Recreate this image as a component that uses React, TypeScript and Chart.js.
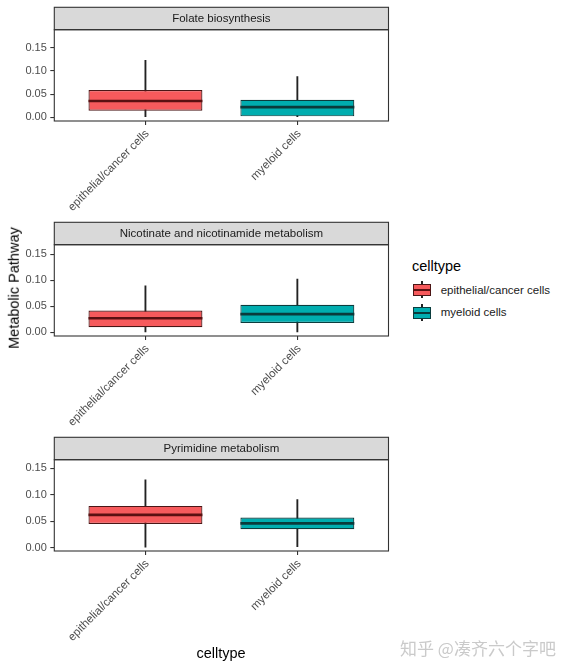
import React, { useEffect, useRef } from "react";
import { Chart, registerables } from "chart.js";

Chart.register(...registerables);

const categories = ["epithelial/cancer cells", "myeloid cells"];
const pathways = [
  "Folate biosynthesis",
  "Nicotinate and nicotinamide metabolism",
  "Pyrimidine metabolism",
];
const yTickValues = [0, 0.05, 0.1, 0.15];
// per pathway: [epithelial/cancer cells, myeloid cells]
const whiskerLow = [[0.0, 0.0], [0.0, 0.0], [0.001, 0.002]];
const lowerQuartile = [[0.014, 0.002], [0.010, 0.018], [0.045, 0.035]];
const medianValue = [[0.035, 0.022], [0.027, 0.035], [0.062, 0.046]];
const upperQuartile = [[0.059, 0.038], [0.042, 0.053], [0.079, 0.057]];
const whiskerHigh = [[0.123, 0.088], [0.089, 0.102], [0.128, 0.091]];
const yAxisMin = [-0.008, -0.007, -0.006];
const yAxisMax = [0.189, 0.168, 0.166];

const fillColors = ["#F65A5C", "#00ADAF"];
const borderColors = ["#4a1616", "#0b3d3e"];
const medianColors = ["#5a1011", "#0a3a3b"];

const FONT = "'Liberation Sans', Arial, Helvetica, sans-serif";

const facetPlugin = {
  id: "facetStrip",
  afterDatasetsDraw(chart: any, _args: any, opts: any) {
    const { ctx } = chart;
    const meta = chart.getDatasetMeta(0);
    const yScale = chart.scales.y;
    ctx.save();
    meta.data.forEach((el: any, j: number) => {
      const y = yScale.getPixelForValue(opts.medians[j]);
      const half = el.width / 2;
      ctx.beginPath();
      ctx.strokeStyle = medianColors[j];
      ctx.lineWidth = 2.6;
      ctx.moveTo(el.x - half, y);
      ctx.lineTo(el.x + half, y);
      ctx.stroke();
    });
    ctx.restore();
  },
  afterDraw(chart: any, _args: any, opts: any) {
    const { ctx, chartArea } = chart;
    const { left, right, top, bottom } = chartArea;
    const stripH = 22.4;
    ctx.save();
    ctx.fillStyle = "#D9D9D9";
    ctx.fillRect(left, top - stripH, right - left, stripH);
    ctx.strokeStyle = "#333333";
    ctx.lineWidth = 1.1;
    ctx.strokeRect(left, top - stripH, right - left, stripH);
    ctx.strokeRect(left, top, right - left, bottom - top);
    ctx.fillStyle = "#1A1A1A";
    ctx.font = `11.5px ${FONT}`;
    ctx.textAlign = "center";
    ctx.textBaseline = "middle";
    ctx.fillText(opts.text, (left + right) / 2, top - stripH / 2 + 0.5);
    ctx.restore();
  },
};

function Panel({ index }: { index: number }) {
  const ref = useRef<HTMLCanvasElement | null>(null);
  useEffect(() => {
    if (!ref.current) return;
    const tickFont = { family: FONT, size: 11 };
    const chart = new Chart(ref.current, {
      type: "bar",
      data: {
        datasets: [
          {
            label: "box",
            data: categories.map((_, j) => ({
              x: j,
              y: [lowerQuartile[index][j], upperQuartile[index][j]],
            })) as any,
            backgroundColor: fillColors,
            borderColor: borderColors,
            borderWidth: 1.2,
            borderSkipped: false,
            barPercentage: 0.75,
            categoryPercentage: 1,
            grouped: false,
            order: 0,
          } as any,
          {
            label: "whisker",
            data: categories.map((_, j) => ({
              x: j,
              y: [whiskerLow[index][j], whiskerHigh[index][j]],
            })) as any,
            backgroundColor: "#222222",
            barThickness: 1.2,
            grouped: false,
            order: 1,
          } as any,
        ],
      },
      options: {
        animation: false,
        responsive: false,
        maintainAspectRatio: false,
        layout: { padding: { top: 29.7, right: 6.5, left: 0, bottom: 0 } },
        plugins: {
          legend: { display: false },
          tooltip: { enabled: false },
          facetStrip: { text: pathways[index], medians: medianValue[index] },
        } as any,
        scales: {
          x: {
            type: "linear",
            offset: false,
            min: -0.6,
            max: 1.6,
            afterBuildTicks: (s: any) => {
              s.ticks = categories.map((_, j) => ({ value: j }));
            },
            afterFit: (s: any) => {
              s.height = 94;
            },
            ticks: {
              callback: (v: any) => categories[v as number],
              minRotation: 45,
              maxRotation: 45,
              autoSkip: false,
              font: { family: FONT, size: 11.5 },
              color: "#4D4D4D",
              padding: 2,
              labelOffset: 2,
            },
            grid: { drawOnChartArea: false, offset: false, tickLength: 4, color: "#333333", lineWidth: 1.1 },
            border: { display: false },
          },
          y: {
            type: "linear",
            min: yAxisMin[index],
            max: yAxisMax[index],
            afterBuildTicks: (s: any) => {
              s.ticks = yTickValues.map((v) => ({ value: v }));
            },
            afterFit: (s: any) => {
              s.width = 54.3;
            },
            ticks: {
              callback: (v: any) => Number(v).toFixed(2),
              font: tickFont,
              color: "#4D4D4D",
              padding: 3.5,
            },
            grid: { drawOnChartArea: false, tickLength: 4, color: "#333333", lineWidth: 1.1 },
            border: { display: false },
          },
        },
      } as any,
      plugins: [facetPlugin],
    });
    return () => chart.destroy();
  }, [index]);
  return (
    <canvas
      ref={ref}
      width={395}
      height={215}
      style={{ position: "absolute", left: 0, top: index * 215, width: 395, height: 215 }}
    />
  );
}

function LegendKey({ top, j }: { top: number; j: number }) {
  return (
    <div style={{ position: "absolute", left: 413, top, width: 18, height: 17 }}>
      <div style={{ position: "absolute", left: 8.4, top: 0, width: 1.2, height: 17, background: "#222" }} />
      <div
        style={{
          position: "absolute",
          left: 0,
          top: 3,
          width: 18,
          height: 12,
          boxSizing: "border-box",
          background: fillColors[j],
          border: `1.2px solid ${borderColors[j]}`,
        }}
      />
      <div style={{ position: "absolute", left: 0, top: 7.8, width: 18, height: 2.4, background: medianColors[j] }} />
    </div>
  );
}

export default function App() {
  const labelStyle: React.CSSProperties = {
    position: "absolute",
    fontFamily: FONT,
    whiteSpace: "nowrap",
    lineHeight: 1,
  };
  return (
    <div
      style={{
        position: "fixed",
        left: 0,
        top: 0,
        width: 567,
        height: 670,
        background: "#ffffff",
        overflow: "hidden",
      }}
    >
      {pathways.map((_, i) => (
        <Panel key={i} index={i} />
      ))}
      <div
        style={{
          ...labelStyle,
          left: 13.5,
          top: 287.5,
          fontSize: 14.5,
          color: "#000",
          transform: "translate(-50%, -50%) rotate(-90deg)",
        }}
      >
        Metabolic Pathway
      </div>
      <div
        style={{
          ...labelStyle,
          left: 221,
          top: 653,
          fontSize: 14.5,
          color: "#000",
          transform: "translate(-50%, -50%)",
        }}
      >
        celltype
      </div>
      <div
        style={{ ...labelStyle, left: 412, top: 266, fontSize: 14.5, color: "#000", transform: "translateY(-50%)" }}
      >
        celltype
      </div>
      {categories.map((c, j) => (
        <React.Fragment key={c}>
          <LegendKey top={281 + j * 23} j={j} />
          <div
            style={{
              ...labelStyle,
              left: 440.7,
              top: 290.5 + j * 22.7,
              fontSize: 11.5,
              color: "#1A1A1A",
              transform: "translateY(-50%)",
            }}
          >
            {c}
          </div>
        </React.Fragment>
      ))}
      <div
        style={{
          position: "absolute",
          left: 400,
          top: 647,
          transform: "translateY(-50%)",
          fontFamily: "'Noto Sans CJK SC', sans-serif",
          fontSize: 17,
          color: "#CACACA",
          whiteSpace: "nowrap",
          lineHeight: 1,
        }}
      >
        知乎 @凑齐六个字吧
      </div>
    </div>
  );
}
